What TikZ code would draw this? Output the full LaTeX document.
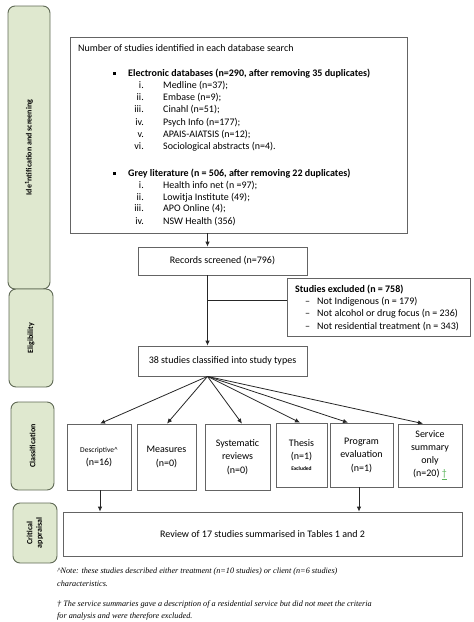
\documentclass[tikz,border=0pt]{standalone}
\usepackage{fontspec}
\setmainfont{Carlito}
\newfontfamily\notefont{Liberation Serif}
\usetikzlibrary{arrows.meta}
\definecolor{sidefill}{RGB}{223,232,207}
\definecolor{sideline}{RGB}{95,105,85}
\definecolor{boxline}{RGB}{100,100,100}
\definecolor{daggergreen}{RGB}{90,180,90}
\begin{document}
\begin{tikzpicture}[x=1pt,y=-1pt,
  side/.style={draw=sideline, fill=sidefill, rounded corners=7pt, line width=0.9pt, inner sep=0},
  sidelbl/.style={font=\fontsize{8}{10}\selectfont\bfseries, rotate=90, align=center, inner sep=0},
  box/.style={draw=boxline, line width=0.8pt, inner sep=0, align=center},
  txt/.style={font=\fontsize{10}{11}\selectfont, inner sep=0},
  btxt/.style={font=\fontsize{10}{11}\selectfont\bfseries, inner sep=0},
  ctxt/.style={font=\fontsize{10}{13.5}\selectfont},
  note/.style={font=\fontsize{8.2}{10}\selectfont\notefont\itshape, inner sep=0},
  arr/.style={-{Latex[length=5pt,width=4.5pt]}, line width=0.8pt, draw=black!85},
  ln/.style={line width=0.8pt, draw=black!85}]
\useasboundingbox (0,0) rectangle (474,622);

% side bars
\node[side, minimum width=42, minimum height=283] (ident) at (29,147.5) {};
\node[side, minimum width=44, minimum height=98] (elig) at (31,338) {};
\node[side, minimum width=43, minimum height=88] (class) at (32.5,446) {};
\node[side, minimum width=44, minimum height=60] (crit) at (35,533) {};
\node[sidelbl] (identlbl) at (ident.center) {Ide\textsuperscript{1}ntification and screening};
\node[sidelbl] (eliglbl) at (elig.center) {Eligibility};
\node[sidelbl] (classlbl) at (class.center) {Classification};
\node[sidelbl, font=\fontsize{8}{9.5}\selectfont\bfseries] (critlbl) at (crit.center) {Critical\\appraisal};

% top search box
\node[box, minimum width=337, minimum height=196] (search) at (238.5,135) {};
\node[txt, anchor=base west] (head) at (78,51) {Number of studies identified in each database search};
\node[txt, anchor=base west] (bul1) at (113,76) {\rule[1.5pt]{2.6pt}{2.6pt}};
\node[btxt, anchor=base west] (elec) at (128,76) {Electronic databases (n=290, after removing 35 duplicates)};
\node[txt, anchor=base east] (r1) at (144,88) {i.};
\node[txt, anchor=base west] (e1) at (163,88) {Medline (n=37);};
\node[txt, anchor=base east] (r2) at (144,100) {ii.};
\node[txt, anchor=base west] (e2) at (163,100) {Embase (n=9);};
\node[txt, anchor=base east] (r3) at (144,112) {iii.};
\node[txt, anchor=base west] (e3) at (163,112) {Cinahl (n=51);};
\node[txt, anchor=base east] (r4) at (144,125) {iv.};
\node[txt, anchor=base west] (e4) at (163,125) {Psych Info (n=177);};
\node[txt, anchor=base east] (r5) at (144,137) {v.};
\node[txt, anchor=base west] (e5) at (163,137) {APAIS-AIATSIS (n=12);};
\node[txt, anchor=base east] (r6) at (144,149) {vi.};
\node[txt, anchor=base west] (e6) at (163,149) {Sociological abstracts (n=4).};
\node[txt, anchor=base west] (bul2) at (113,176) {\rule[1.5pt]{2.6pt}{2.6pt}};
\node[btxt, anchor=base west] (grey) at (128,176) {Grey literature (n = 506, after removing 22 duplicates)};
\node[txt, anchor=base east] (g1r) at (144,188) {i.};
\node[txt, anchor=base west] (g1) at (163,188) {Health info net (n =97);};
\node[txt, anchor=base east] (g2r) at (144,200) {ii.};
\node[txt, anchor=base west] (g2) at (163,200) {Lowitja Institute (49);};
\node[txt, anchor=base east] (g3r) at (144,211) {iii.};
\node[txt, anchor=base west] (g3) at (163,211) {APO Online (4);};
\node[txt, anchor=base east] (g4r) at (144,224) {iv.};
\node[txt, anchor=base west] (g4) at (163,224) {NSW Health (356)};

% records / excluded / classified
\node[box, ctxt, minimum width=169, minimum height=28] (rec) at (222.5,261) {Records screened (n=796)};
\node[box, minimum width=183, minimum height=58] (excl) at (378.5,307) {};
\node[btxt, anchor=base west] (exh) at (295,292) {Studies excluded (n = 758)};
\node[txt, anchor=base west] (d1) at (305,304) {–};
\node[txt, anchor=base west] (x1) at (317,304) {Not Indigenous (n = 179)};
\node[txt, anchor=base west] (d2) at (305,316) {–};
\node[txt, anchor=base west] (x2) at (317,316) {Not alcohol or drug focus (n = 236)};
\node[txt, anchor=base west] (d3) at (305,329) {–};
\node[txt, anchor=base west] (x3) at (317,329) {Not residential treatment (n = 343)};
\node[box, ctxt, minimum width=169, minimum height=30] (cls) at (222.5,361) {38 studies classified into study types};

% six study-type boxes
\node[box, ctxt, minimum width=64, minimum height=66] (desc) at (99,457) {{\fontsize{7.5}{9}\selectfont Descriptive\textasciicircum}\\(n=16)};
\node[box, ctxt, minimum width=59, minimum height=66] (meas) at (166.5,457) {Measures\\(n=0)};
\node[box, ctxt, minimum width=65, minimum height=66] (sys) at (237.5,457) {Systematic\\reviews\\(n=0)};
\node[box, ctxt, minimum width=51, minimum height=64] (thes) at (301.5,455) {Thesis\\(n=1)\\[-3pt]{\fontsize{5.5}{7}\selectfont\bfseries Excluded}};
\node[box, ctxt, minimum width=63, minimum height=64] (prog) at (361.5,455) {Program\\evaluation\\(n=1)};
\node[box, ctxt, font=\fontsize{10}{12.8}\selectfont, minimum width=64, minimum height=63] (serv) at (430,455.5) {Service\\summary\\only\\(n=20) {\color{daggergreen}\underline{†}}};

% review box
\node[box, ctxt, minimum width=399, minimum height=44] (rev) at (262.5,534) {Review of 17 studies summarised in Tables 1 and 2};

% notes
\node[note, anchor=base west] (n1) at (57,573) {\textasciicircum Note: these studies described either treatment (n=10 studies) or client (n=6 studies)};
\node[note, anchor=base west] (n2) at (57,586) {characteristics.};
\node[note, anchor=base west] (n3) at (57,606) {† The service summaries gave a description of a residential service but did not meet the criteria};
\node[note, anchor=base west] (n4) at (57,618.5) {for analysis and were therefore excluded.};

% connectors
\coordinate (spine) at (207.5,0);
\coordinate (junc) at (207.5,300);
\draw[arr] (search.south -| spine) -- (rec.north -| spine);
\draw[arr] (rec.south -| spine) -- (cls.north -| spine);
\draw[ln] (junc) -- (junc -| excl.west);
\coordinate (fan) at (cls.south -| spine);
\draw[arr] (fan) -- ([xshift=1pt]desc.north);
\draw[arr] (fan) -- ([xshift=0.5pt]meas.north);
\draw[arr] (fan) -- ([xshift=4.5pt]sys.north);
\draw[arr] (fan) -- ([xshift=-1.5pt]thes.north);
\draw[arr] (fan) -- ([xshift=-13.5pt]prog.north);
\draw[arr] (fan) -- ([xshift=-7pt]serv.north);
\draw[arr] ([xshift=1pt]desc.south) -- ([xshift=1pt]desc.south |- rev.north);
\draw[arr] ([xshift=-2.5pt]prog.south) -- ([xshift=-2.5pt]prog.south |- rev.north);
\end{tikzpicture}
\end{document}
